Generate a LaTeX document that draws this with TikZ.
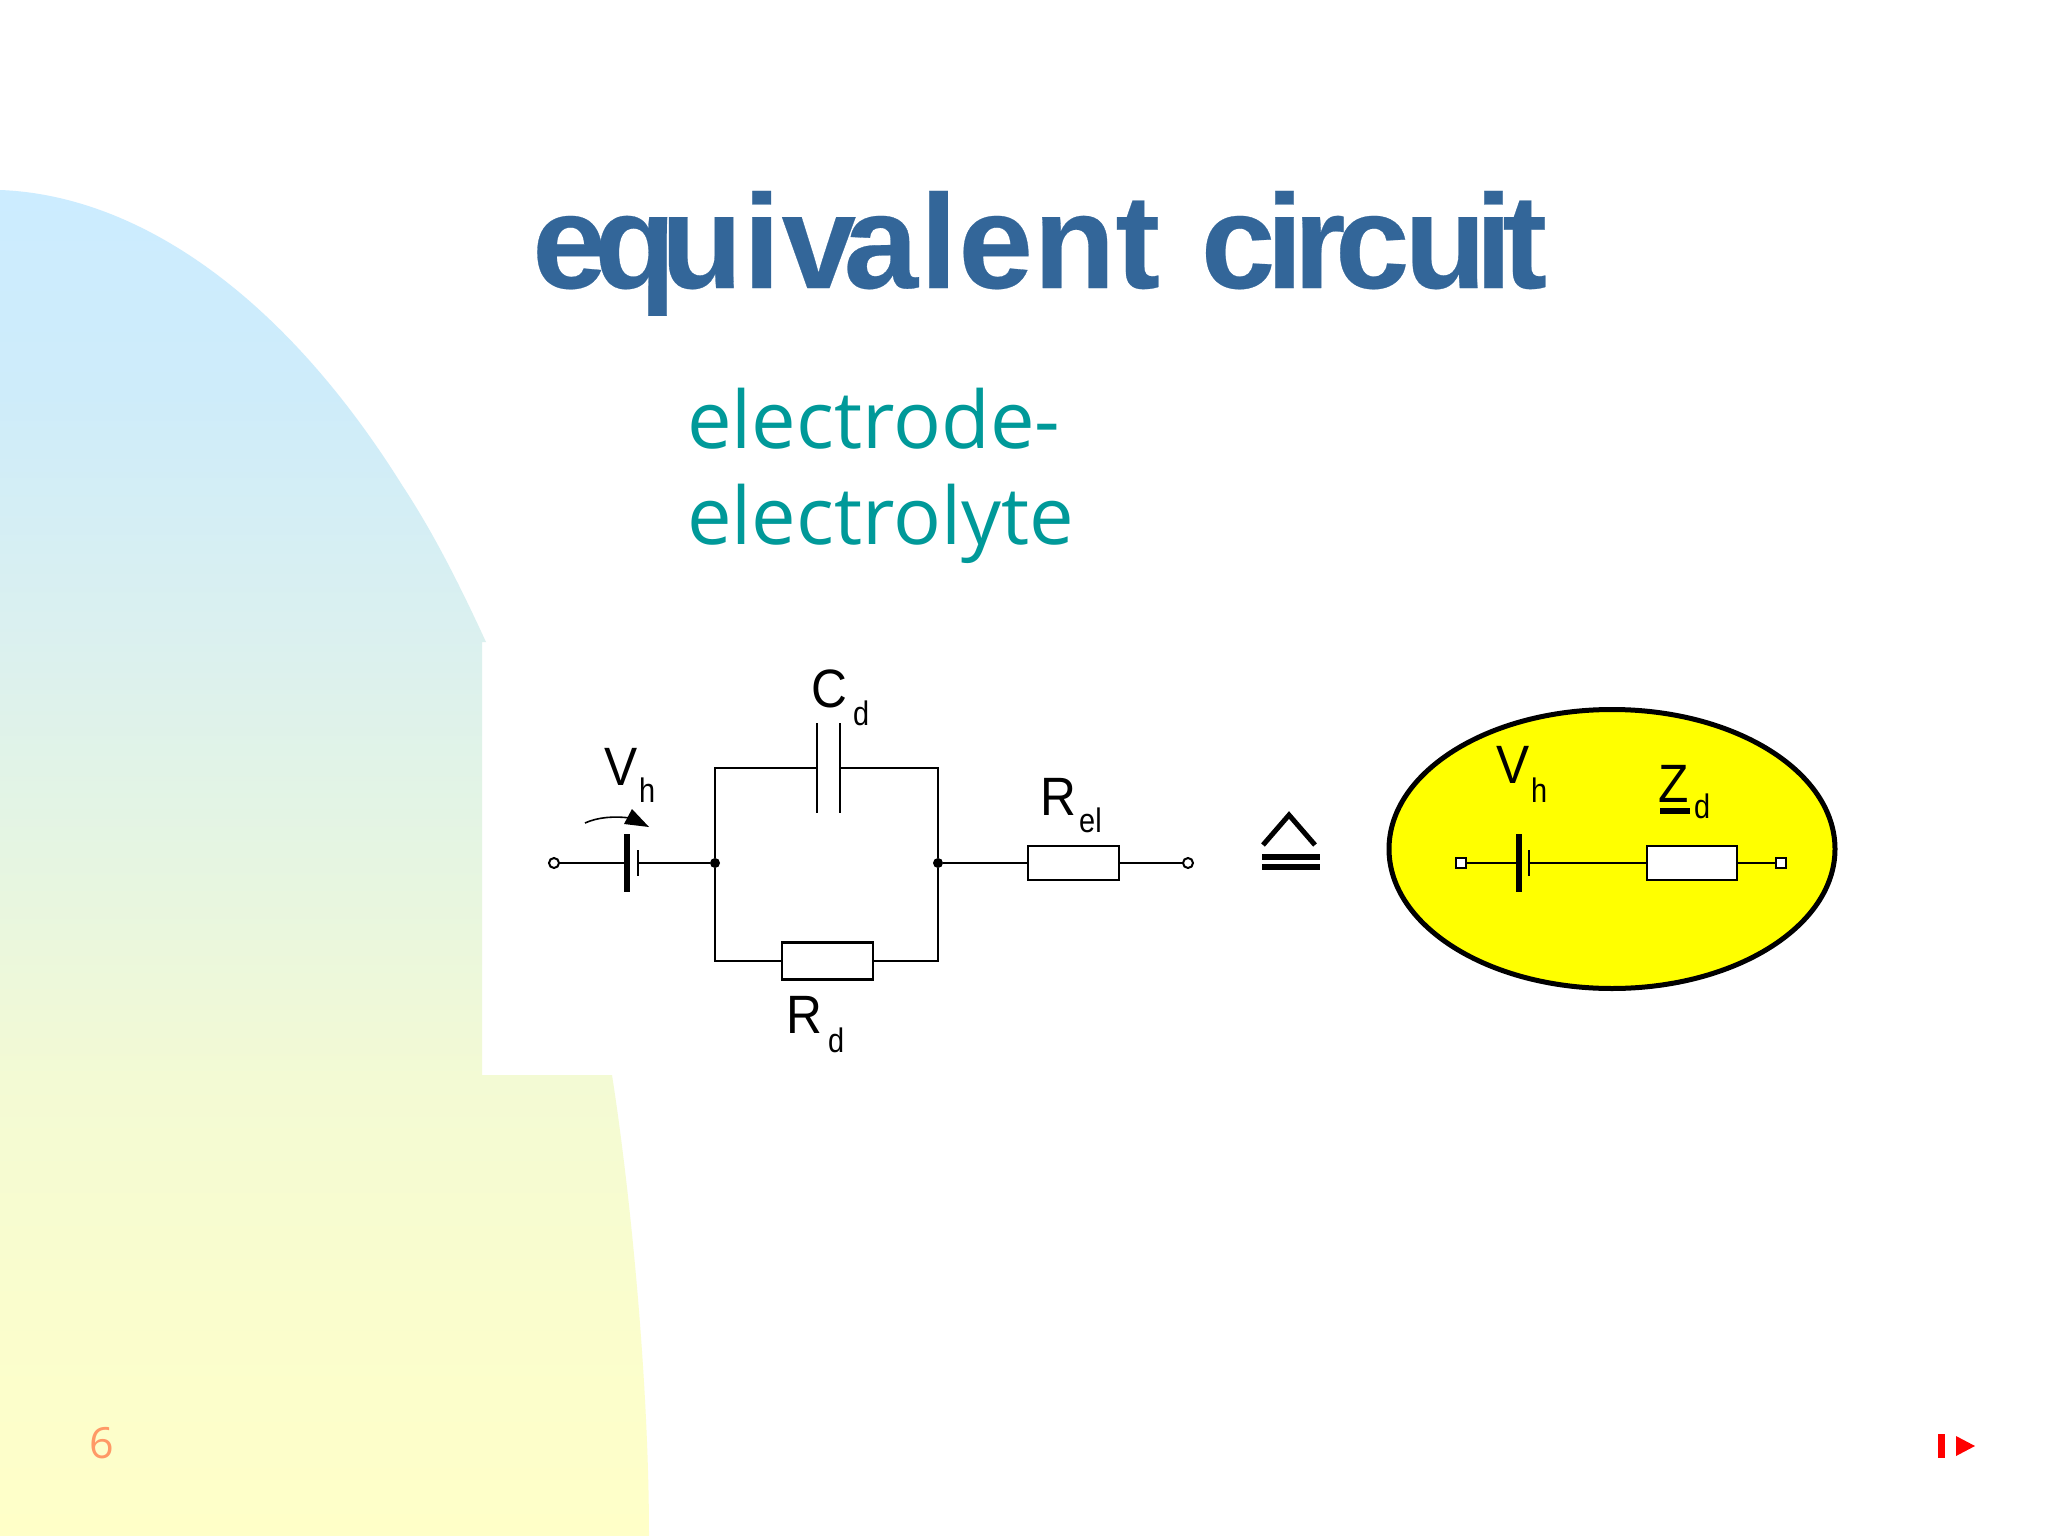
\documentclass[tikz,border=0pt]{standalone}
\usepackage{fontspec}
\setmainfont{Liberation Sans}
\newfontfamily\titlefont[Kerning=Off,FakeBold=0.2]{Liberation Sans Bold}
\newfontfamily\bodyfont{Open Sans}
\usetikzlibrary{shapes.geometric}
\definecolor{titleblue}{RGB}{51,102,153}
\definecolor{subteal}{RGB}{0,153,153}
\definecolor{numorange}{RGB}{255,153,102}
\definecolor{pureyellow}{RGB}{255,255,0}
\definecolor{purered}{RGB}{255,0,0}
\definecolor{bga}{RGB}{204,236,255}
\definecolor{bgb}{RGB}{206,236,250}
\definecolor{bgc}{RGB}{218,240,240}
\definecolor{bgd}{RGB}{229,245,226}
\definecolor{bge}{RGB}{243,250,212}
\definecolor{bgf}{RGB}{250,253,205}
\definecolor{bgg}{RGB}{255,255,200}
\pgfdeclareverticalshading{slideshade}{100bp}{
  color(0bp)=(bgg); color(25bp)=(bgg); color(33.5bp)=(bgf); color(42bp)=(bge); color(50.5bp)=(bgd);
  color(59bp)=(bgc); color(67.5bp)=(bgb); color(75bp)=(bga); color(100bp)=(bga)}
\tikzset{
  wire/.style={line width=2.4pt,black},
  thinwire/.style={line width=1.8pt,black},
  term/.style={circle,draw,line width=2pt,fill=white,inner sep=0pt,minimum size=10pt},
  sqterm/.style={rectangle,draw,line width=2pt,fill=white,inner sep=0pt,minimum size=10pt},
  junct/.style={circle,fill=black,inner sep=0pt,minimum size=10pt},
  resbox/.style={rectangle,draw,line width=2.4pt,fill=white,inner sep=0pt},
  thickplate/.style={rectangle,fill=black,inner sep=0pt,minimum width=6pt,minimum height=58pt},
  thinplate/.style={rectangle,fill=black,inner sep=0pt,minimum width=2pt,minimum height=26pt},
  capplate/.style={rectangle,fill=black,inner sep=0pt,minimum width=2.4pt,minimum height=90pt},
  bigl/.style={anchor=base west,inner sep=0pt,font=\fontsize{54}{54}\selectfont,xscale=.92},
  smalll/.style={anchor=base west,inner sep=0pt,font=\fontsize{34}{34}\selectfont,xscale=.85},
}
\begin{document}
\begin{tikzpicture}[x=1pt,y=-1pt]
\useasboundingbox (0,0) rectangle (2048,1536);
\fill[white] (0,0) rectangle (2048,1536);
% background
\path[shading=slideshade,draw=none]
  (0,190) .. controls (134,195) and (280,290) .. (402,485)
  .. controls (435,535) and (462,590) .. (486,642)
  -- (482,642) -- (482,1075) -- (612,1075)
  .. controls (630,1190) and (649,1380) .. (649,1536)
  -- (0,1536) -- cycle;
% title
\node[anchor=base west,inner sep=0pt,text=titleblue,font=\titlefont\fontsize{134}{134}\selectfont] (title) at (532,288)
 {e\kern-12.5pt q\kern-15.4pt u\kern.6pt i\kern1.2pt v\kern-12.5pt a\kern2pt l\kern1.2pt e\kern.5pt n\kern0pt t\kern3.7pt\ c\kern-9.6pt i\kern-9.8pt r\kern-10.5pt c\kern-5.1pt u\kern-11.4pt i\kern-9.8pt t};
\node[anchor=base west,inner sep=0pt,text=subteal,font=\bodyfont\fontsize{79.5}{79.5}\selectfont] (sub1) at (687,448) {electrode-};
\node[anchor=base west,inner sep=0pt,text=subteal,font=\bodyfont\fontsize{79.5}{79.5}\selectfont] (sub2) at (687,544) {electrolyte};
% left circuit
\node[term] (tl) at (554,863) {};
\node[thickplate] (b1) at (627,863) {};
\node[thinplate] (b2) at (638,863) {};
\node[junct] (jl) at (715,863) {};
\node[junct] (jr) at (938,863) {};
\node[capplate] (c1) at (817,768) {};
\node[capplate] (c2) at (840,768) {};
\node[resbox,minimum width=91pt,minimum height=37pt] (rd) at (827.5,961) {};
\node[resbox,minimum width=91pt,minimum height=34pt] (rel) at (1073.5,863) {};
\node[term] (tr) at (1188,863) {};
\draw[wire] (tl) -- (b1);
\draw[wire] (b2) -- (jl);
\draw[wire] (jl) |- (c1);
\draw[wire] (c2) -| (jr);
\draw[wire] (jl) |- (rd);
\draw[wire] (rd) -| (jr);
\draw[wire] (jr) -- (rel);
\draw[wire] (rel) -- (tr);
% voltage arrow
\coordinate (aa) at (585,823);
\coordinate (ab) at (630,818);
\draw[line width=1.6pt] (aa) .. controls (598,817) and (615,816) .. (ab);
\fill[black] (632,809) -- (649,827) -- (624,824) -- cycle;
% left labels
\node[bigl] (lC) at (811,707) {C};
\node[smalll] (lCd) at (853,725) {d};
\node[bigl] (lV) at (604,785) {V};
\node[smalll] (lVh) at (639,802) {h};
\node[bigl] (lR) at (1040,815) {R};
\node[smalll] (lRe) at (1079,832) {el};
\node[bigl] (lRd) at (786,1033) {R};
\node[smalll] (lRdd) at (828,1052) {d};
% equivalence sign
\draw[line width=5pt,line cap=butt,line join=miter] (1263,845) -- (1289,815) -- (1315,845);
\fill[black] (1262,854) rectangle (1320,860);
\fill[black] (1262,864) rectangle (1320,870);
% right circuit
\node[ellipse,draw,line width=5pt,fill=pureyellow,inner sep=0pt,minimum width=446pt,minimum height=279pt] (blob) at (1612,849) {};
\node[sqterm] (ql) at (1461,863) {};
\node[thickplate] (rb1) at (1519,863) {};
\node[thinplate] (rb2) at (1529,863) {};
\node[resbox,minimum width=90pt,minimum height=34pt] (zd) at (1692,863) {};
\node[sqterm] (qr) at (1781,863) {};
\draw[thinwire] (ql) -- (rb1);
\draw[thinwire] (rb2) -- (zd);
\draw[thinwire] (zd) -- (qr);
\node[bigl] (rV) at (1496,783) {V};
\node[smalll] (rVh) at (1531,802) {h};
\node[bigl] (rZ) at (1658,802) {Z};
\fill[black] (1660,808) rectangle (1690,813.5);
\node[smalll] (rZd) at (1694,818) {d};
% page number and marker
\node[anchor=base west,inner sep=0pt,text=numorange,font=\bodyfont\fontsize{43}{43}\selectfont] (num) at (89,1458) {6};
\fill[purered] (1938,1434) rectangle (1945,1458);
\fill[purered] (1956,1436) -- (1975,1446) -- (1956,1456) -- cycle;
\end{tikzpicture}
\end{document}
